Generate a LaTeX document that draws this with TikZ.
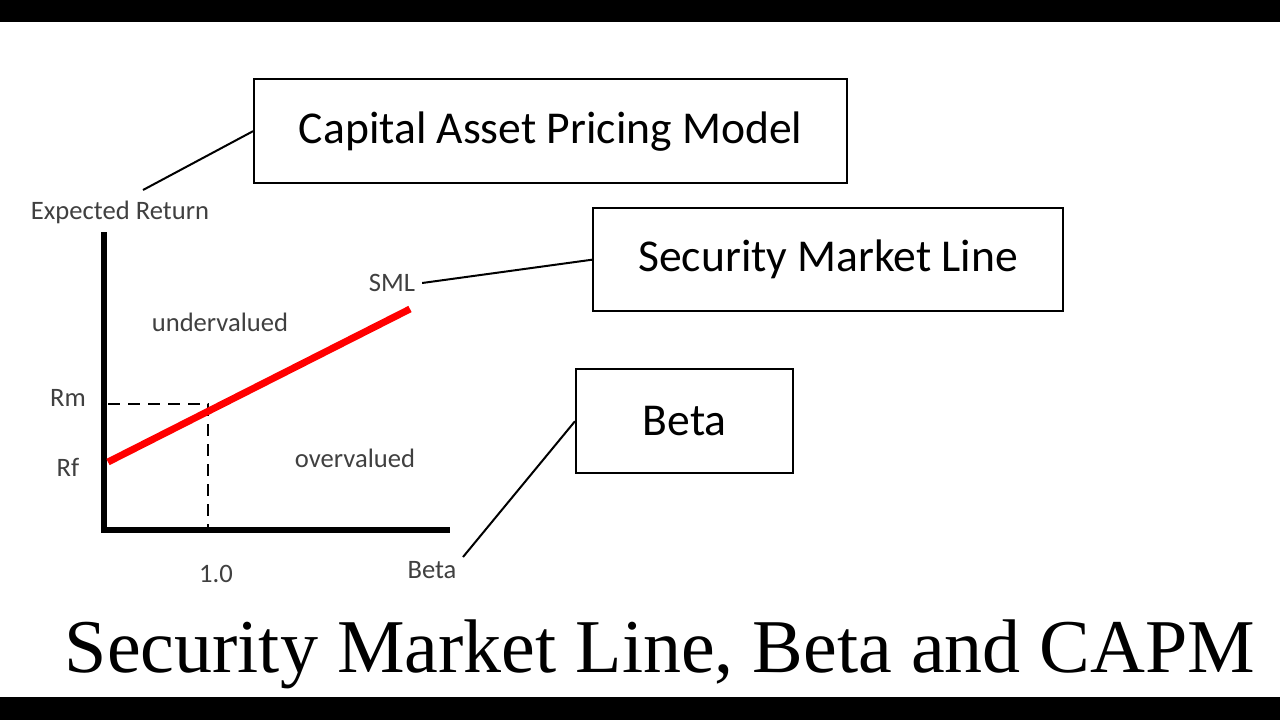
\documentclass[tikz,border=0pt]{standalone}
\usepackage{fontspec}
\setmainfont{Carlito}
\newfontfamily\titlefont{Liberation Serif}
\begin{document}
\begin{tikzpicture}[x=0.5pt,y=-0.5pt,
  box/.style={draw,line width=1.2pt,inner sep=0pt,anchor=north west,font=\fontsize{22.8}{26}\selectfont},
  lbl/.style={font=\fontsize{13.3}{15}\selectfont,text=black!75},
  conn/.style={line width=1pt}]
\useasboundingbox (0,0) rectangle (1280,720);
\fill[white] (0,0) rectangle (1280,720);
\fill[black] (0,0) rectangle (1280,22);
\fill[black] (0,697) rectangle (1280,720);
% boxes
\node[box,minimum width=296.5pt,minimum height=52pt] (capm) at (253,78) {Capital Asset Pricing Model};
\node[box,minimum width=235pt,minimum height=51.5pt] (sml) at (592,207) {Security Market Line};
\node[box,minimum width=108.5pt,minimum height=52pt] (beta) at (575,368) {Beta};
% axes
\node[lbl] (er) at (120,212) {Expected Return};
\coordinate (o) at (104,530);
\draw[line width=3pt] (104,232) -- (o) -- (450,530);
\node[lbl] (rm) at (68,398) {Rm};
\node[lbl] (rf) at (68,467) {Rf};
\node[lbl] (uv) at (220,322) {undervalued};
\node[lbl] (ov) at (355,458) {overvalued};
\node[lbl] (smll) at (392,283) {SML};
\node[lbl] (one) at (216,574) {1.0};
\node[lbl] (betal) at (432,570) {Beta};
\coordinate (m) at (208,404);
\draw[dashed,line width=0.7pt,dash pattern=on 6pt off 4pt] (108,404) -- (m) -- (208,528);
\draw[red,line width=3.5pt] (108,462) -- (410,309);
% connectors
\draw[conn] (capm.west) -- (143,190);
\draw[conn] (sml.west) -- (smll.east);
\draw[conn] (beta.west) -- (463,557);
\node[font=\titlefont\fontsize{38}{44}\selectfont] (title) at (660,654) {Security Market Line, Beta and CAPM};
\end{tikzpicture}
\end{document}
